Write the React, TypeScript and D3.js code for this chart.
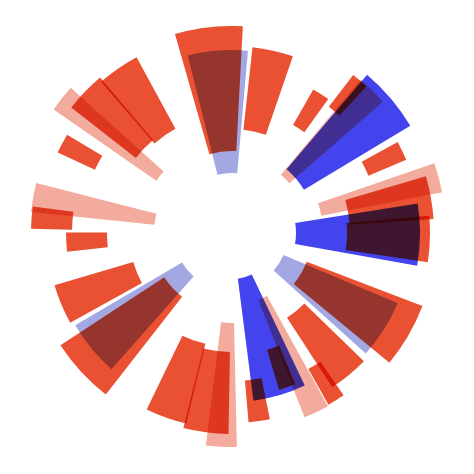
import React from "react";
import * as d3 from "d3";

// Radial segments (angles in degrees clockwise from 12 o'clock, radii in chart units)
const segmentIds = ["A", "L1", "B", "C", "D", "E", "F", "G", "H", "I", "K", "J", "N", "M", "O", "P", "Q", "R", "S", "T", "U", "V", "W", "X", "Z", "Y", "AA", "CC", "BB", "DD", "EE", "FF", "GG"];
const startDeg = [-16, -14, 6.3, 29.5, 37.5, 40.5, 40, 61.2, 71, 73.7, 81, 85, 111, 113, 134.2, 145.5, 151, 154.5, 157.3, 168.5, 178.7, 181, 193.5, 218, 221.5, 241, 263.5, 271.2, 276, 294.8, 304.7, 308, 319.1];
const endDeg = [3, 5, 19, 35.7, 42.5, 59, 49, 67.2, 79, 86, 100, 98.5, 129.5, 132, 147, 150.7, 158.5, 172.7, 163.3, 175, 187, 194, 205.8, 236.8, 239.5, 253.6, 270.2, 277.6, 284.3, 300.8, 312, 319.7, 331.5];
const innerR = [82, 60, 104, 124, 159, 84, 76, 148, 91, 118, 64, 115, 80, 56, 101, 156, 72, 46, 122, 148, 90, 119, 114, 81, 58, 103, 125, 160, 78, 151, 92, 122, 118.5];
const outerR = [207, 183, 187, 165, 199, 208, 200, 189, 214, 202, 188, 198, 204, 180, 184, 197, 198, 169, 164, 190, 214, 201, 196, 205, 182, 185, 166, 201, 202, 192, 217, 204, 200];
const tones = ["red", "lavender", "red", "red", "red", "blue", "salmon", "red", "salmon", "red", "blue", "red", "red", "lavender", "red", "red", "salmon", "blue", "red", "red", "salmon", "red", "red", "red", "lavender", "red", "red", "red", "salmon", "red", "salmon", "red", "red"];

const toneNames = ["red", "salmon", "blue", "lavender"];
const toneColors = ["#ea5133", "#f2ab9c", "#4444ee", "#a3a7e2"];

export default function App() {
  const W = 474;
  const H = 474;
  const cx = 232;
  const cy = 233;

  const angle = d3.scaleLinear().domain([0, 360]).range([0, 2 * Math.PI]);
  const radius = d3.scaleLinear().domain([0, 220]).range([0, 220]);
  const color = d3.scaleOrdinal<string, string>().domain(toneNames).range(toneColors);

  const rows = segmentIds.map((id, i) => ({
    id,
    s: startDeg[i],
    e: endDeg[i],
    r0: innerR[i],
    r1: outerR[i],
    tone: tones[i],
  }));

  const arc = d3
    .arc<any>()
    .innerRadius((d: any) => radius(d.r0))
    .outerRadius((d: any) => radius(d.r1))
    .startAngle((d: any) => angle(d.s))
    .endAngle((d: any) => angle(d.e));

  return (
    <svg
      width={W}
      height={H}
      viewBox={`0 0 ${W} ${H}`}
      style={{ position: "absolute", left: 0, top: 0, display: "block" }}
    >
      <rect x={0} y={0} width={W} height={H} fill="#ffffff" />
      <g transform={`translate(${cx},${cy})`}>
        {rows.map((d) => (
          <path
            key={d.id}
            d={arc(d) || ""}
            fill={color(d.tone)}
            style={{ mixBlendMode: "multiply" }}
          />
        ))}
      </g>
    </svg>
  );
}
